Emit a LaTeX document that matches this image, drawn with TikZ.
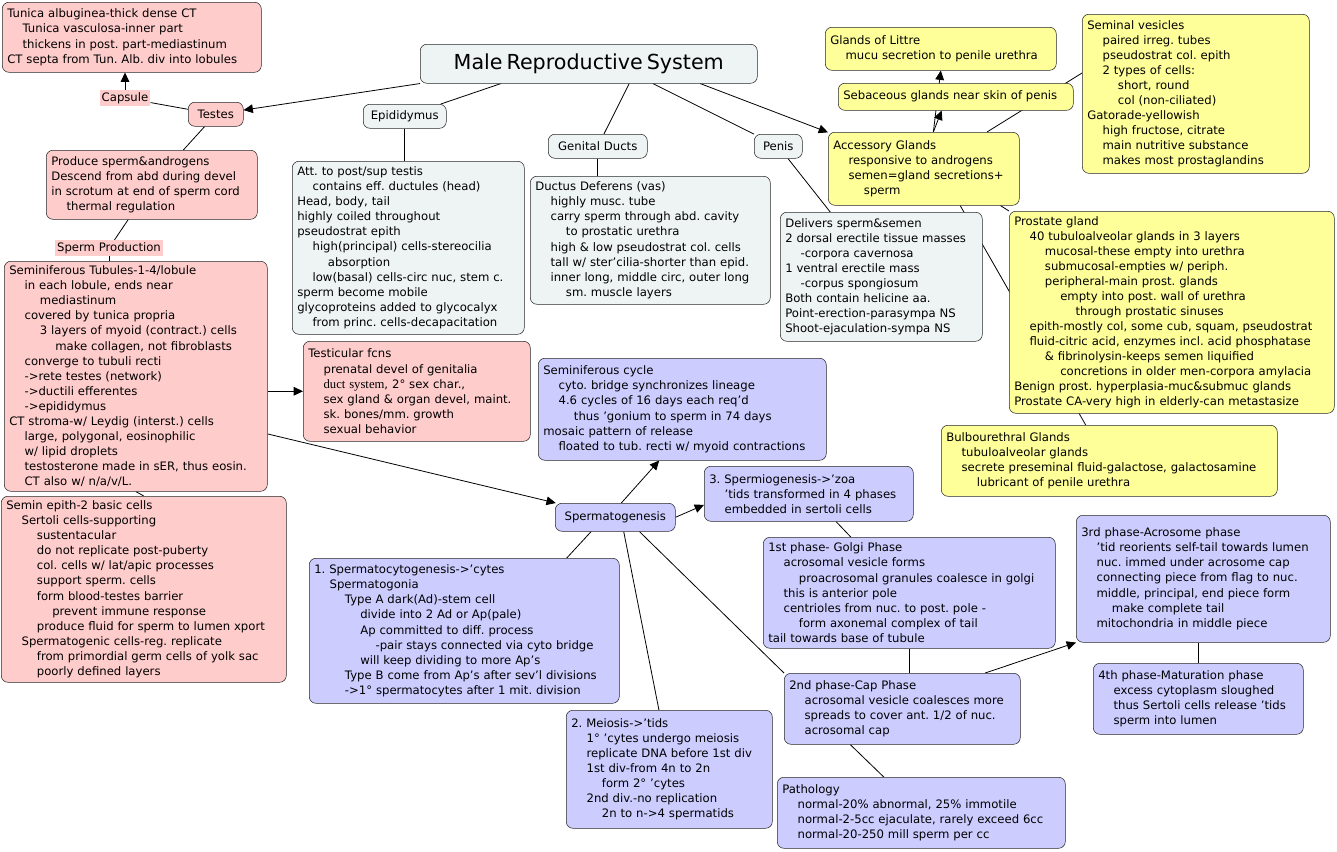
\documentclass[tikz,border=0pt]{standalone}
\usepackage{fontspec}
\setmainfont{DejaVu Sans}
\newfontfamily\serifx{Liberation Serif}
\usetikzlibrary{arrows.meta,calc,backgrounds}
\definecolor{pk}{RGB}{255,204,204}
\definecolor{bg}{RGB}{238,243,244}
\definecolor{yl}{RGB}{255,255,153}
\definecolor{lv}{RGB}{204,204,255}
\definecolor{bd}{RGB}{40,40,40}
\newcommand\ii{\hspace*{11.5pt}}
\newcommand\bx[7]{\node[box,fill=#2,text width={(#5-#3-10)*0.75pt},minimum height={(#6-#4)*0.75pt}] (#1) at (#3,#4) {#7};}
\newcommand\lb[7]{\node[box,fill=#2,align=center,text width={(#5-#3-10)*0.75pt},minimum height={(#6-#4)*0.75pt}] (#1) at (#3,#4) {#7};}
\newcommand\pt[3]{($(#1.#2 west)!#3!(#1.#2 east)$)}
\begin{document}
\frenchspacing
\begin{tikzpicture}[x=0.75pt,y=-0.75pt,
  font=\fontsize{8.75}{11.3}\selectfont\frenchspacing,
  box/.style={draw=bd,rounded corners=5pt,anchor=north west,align=left,inner xsep=3.75pt,inner ysep=2pt},
  tag/.style={fill=pk,inner sep=1.5pt},
  arr/.style={-{Triangle[length=7pt,width=6.5pt]}},
  con/.style={draw=black,line width=0.6pt}]
\useasboundingbox (0,0) rectangle (1337,851);
\lb{title}{bg}{420}{44}{757}{83}{\fontsize{15.5}{18}\selectfont Male Reproductive System}
\bx{tun}{pk}{2}{2}{261}{72}{Tunica albuginea-thick dense CT\\\ii Tunica vasculosa-inner part\\\ii thickens in post. part-mediastinum\\CT septa from Tun. Alb. div into lobules}
\node[tag] (cap) at (125,98) {Capsule};
\lb{testes}{pk}{188}{102}{243}{126}{Testes}
\bx{prod}{pk}{46}{150}{257}{219}{Produce sperm\&androgens\\Descend from abd during devel\\in scrotum at end of sperm cord\\\ii thermal regulation}
\node[tag] (sp) at (109,248) {Sperm Production};
\bx{semtub}{pk}{4}{261}{267}{491}{Seminiferous Tubules-1-4/lobule\\\ii in each lobule, ends near\\\ii\ii mediastinum\\\ii covered by tunica propria\\\ii\ii 3 layers of myoid (contract.) cells\\\ii\ii\ii make collagen, not fibroblasts\\\ii converge to tubuli recti\\\ii ->rete testes (network)\\\ii ->ductili efferentes\\\ii ->epididymus\\CT stroma-w/ Leydig (interst.) cells\\\ii large, polygonal, eosinophilic\\\ii w/ lipid droplets\\\ii testosterone made in sER, thus eosin.\\\ii CT also w/ n/a/v/L.}
\bx{semepi}{pk}{1}{496}{286}{682}{Semin epith-2 basic cells\\\ii Sertoli cells-supporting\\\ii\ii sustentacular\\\ii\ii do not replicate post-puberty\\\ii\ii col. cells w/ lat/apic processes\\\ii\ii support sperm. cells\\\ii\ii form blood-testes barrier\\\ii\ii\ii prevent immune response\\\ii\ii produce fluid for sperm to lumen xport\\\ii Spermatogenic cells-reg. replicate\\\ii\ii from primordial germ cells of yolk sac\\\ii\ii poorly defined layers}
\bx{testic}{pk}{303}{341}{530}{441}{Testicular fcns\\\ii prenatal devel of genitalia\\\ii {\serifx\fontsize{9.5}{11}\selectfont duct system}, 2° sex char.,\\\ii sex gland \& organ devel, maint.\\\ii sk. bones/mm. growth\\\ii sexual behavior}
\lb{epil}{bg}{363}{104}{446}{128}{Epididymus}
\bx{epid}{bg}{292}{161}{524}{334}{Att. to post/sup testis\\\ii contains eff. ductules (head)\\Head, body, tail\\highly coiled throughout\\pseudostrat epith\\\ii high(principal) cells-stereocilia\\\ii\ii absorption\\\ii low(basal) cells-circ nuc, stem c.\\sperm become mobile\\glycoproteins added to glycocalyx\\\ii from princ. cells-decapacitation}
\lb{gen}{bg}{548}{134}{647}{158}{Genital Ducts}
\bx{duct}{bg}{530}{176}{770}{304}{Ductus Deferens (vas)\\\ii highly musc. tube\\\ii carry sperm through abd. cavity\\\ii\ii to prostatic urethra\\\ii high \& low pseudostrat col. cells\\\ii tall w/ ster'cilia-shorter than epid.\\\ii inner long, middle circ, outer long\\\ii\ii sm. muscle layers}
\lb{pen}{bg}{754}{134}{802}{158}{Penis}
\bx{pend}{bg}{780}{212}{982}{341}{Delivers sperm\&semen\\2 dorsal erectile tissue masses\\\ii -corpora cavernosa\\1 ventral erectile mass\\\ii -corpus spongiosum\\Both contain helicine aa.\\Point-erection-parasympa NS\\Shoot-ejaculation-sympa NS}
\bx{lit}{yl}{825}{27}{1056}{70}{Glands of Littre\\\ii mucu secretion to penile urethra}
\bx{seb}{yl}{838}{83}{1073}{110}{Sebaceous glands near skin of penis}
\bx{semv}{yl}{1082}{14}{1309}{173}{Seminal vesicles\\\ii paired irreg. tubes\\\ii pseudostrat col. epith\\\ii 2 types of cells:\\\ii\ii short, round\\\ii\ii col (non-ciliated)\\Gatorade-yellowish\\\ii high fructose, citrate\\\ii main nutritive substance\\\ii makes most prostaglandins}
\bx{acc}{yl}{828}{132}{1019}{205}{Accessory Glands\\\ii responsive to androgens\\\ii semen=gland secretions+\\\ii\ii sperm}
\bx{pros}{yl}{1009}{211}{1334}{413}{Prostate gland\\\ii 40 tubuloalveolar glands in 3 layers\\\ii\ii mucosal-these empty into urethra\\\ii\ii submucosal-empties w/ periph.\\\ii\ii peripheral-main prost. glands\\\ii\ii\ii empty into post. wall of urethra\\\ii\ii\ii\ii through prostatic sinuses\\\ii epith-mostly col, some cub, squam, pseudostrat\\\ii fluid-citric acid, enzymes incl. acid phosphatase\\\ii\ii \& fibrinolysin-keeps semen liquified\\\ii\ii\ii concretions in older men-corpora amylacia\\Benign prost. hyperplasia-muc\&submuc glands\\Prostate CA-very high in elderly-can metastasize}
\bx{bulb}{yl}{941}{425}{1277}{496}{Bulbourethral Glands\\\ii tubuloalveolar glands\\\ii secrete preseminal fluid-galactose, galactosamine\\\ii\ii lubricant of penile urethra}
\bx{cyc}{lv}{538}{358}{826}{460}{Seminiferous cycle\\\ii cyto. bridge synchronizes lineage\\\ii 4.6 cycles of 16 days each req'd\\\ii\ii thus 'gonium to sperm in 74 days\\mosaic pattern of release\\\ii floated to tub. recti w/ myoid contractions}
\lb{sgen}{lv}{555}{503}{675}{531}{Spermatogenesis}
\bx{spio}{lv}{704}{466}{913}{521}{3. Spermiogenesis->'zoa\\\ii 'tids transformed in 4 phases\\\ii embedded in sertoli cells}
\bx{cyto}{lv}{309}{558}{619}{703}{1. Spermatocytogenesis->'cytes\\\ii Spermatogonia\\\ii\ii Type A dark(Ad)-stem cell\\\ii\ii\ii divide into 2 Ad or Ap(pale)\\\ii\ii\ii Ap committed to diff. process\\\ii\ii\ii\ii -pair stays connected via cyto bridge\\\ii\ii\ii will keep dividing to more Ap's\\\ii\ii Type B come from Ap's after sev'l divisions\\\ii\ii ->1° spermatocytes after 1 mit. division}
\bx{meio}{lv}{566}{710}{772}{828}{2. Meiosis->'tids\\\ii 1° 'cytes undergo meiosis\\\ii replicate DNA before 1st div\\\ii 1st div-from 4n to 2n\\\ii\ii form 2° 'cytes\\\ii 2nd div.-no replication\\\ii\ii 2n to n->4 spermatids}
\bx{ph1}{lv}{763}{537}{1055}{648}{1st phase- Golgi Phase\\\ii acrosomal vesicle forms\\\ii\ii proacrosomal granules coalesce in golgi\\\ii this is anterior pole\\\ii centrioles from nuc. to post. pole -\\\ii\ii form axonemal complex of tail\\tail towards base of tubule}
\bx{ph2}{lv}{784}{673}{1020}{744}{2nd phase-Cap Phase\\\ii acrosomal vesicle coalesces more\\\ii spreads to cover ant. 1/2 of nuc.\\\ii acrosomal cap}
\bx{path}{lv}{777}{777}{1065}{848}{Pathology\\\ii normal-20\% abnormal, 25\% immotile\\\ii normal-2-5cc ejaculate, rarely exceed 6cc\\\ii normal-20-250 mill sperm per cc}
\bx{ph3}{lv}{1076}{515}{1330}{642}{3rd phase-Acrosome phase\\\ii 'tid reorients self-tail towards lumen\\\ii nuc. immed under acrosome cap\\\ii connecting piece from flag to nuc.\\\ii middle, principal, end piece form\\\ii\ii make complete tail\\\ii mitochondria in middle piece}
\bx{ph4}{lv}{1093}{663}{1303}{734}{4th phase-Maturation phase\\\ii excess cytoplasm sloughed\\\ii thus Sertoli cells release 'tids\\\ii sperm into lumen}
\begin{pgfonlayer}{background}
\draw[con,arr] (title.south west) -- (testes);
\draw[con] \pt{title}{south}{0.24} -- (epil);
\draw[con] \pt{title}{south}{0.62} -- (gen);
\draw[con] \pt{title}{south}{0.69} -- (pen);
\draw[con,arr] \pt{title}{south}{0.83} -- (acc);
\draw[con] (testes) -- (cap);
\draw[con,arr] (cap) -- (cap |- tun.south);
\draw[con] (testes) -- (prod);
\draw[con] (prod) -- (sp);
\draw[con] (sp) -- (sp |- semtub.north);
\draw[con,arr] (testic.west -| semtub.east) -- (testic.west);
\draw[con,arr] ($(semtub.north east)!0.75!(semtub.south east)$) -- (sgen);
\draw[con] (semtub.south) -- (semepi.north);
\draw[con] (epil) -- (epil |- epid.north);
\draw[con] (gen) -- (gen |- duct.north);
\draw[con] (pen) -- (pend);
\draw[con,arr] \pt{acc}{north}{0.55} -- \pt{seb}{south}{0.44};
\draw[con,arr] \pt{acc}{north}{0.55} -- \pt{lit}{south}{0.5};
\draw[con] \pt{acc}{north}{0.83} -- ($(semv.north west)!0.37!(semv.south west)$);
\draw[con] \pt{acc}{south}{0.9} -- (pros.north west);
\draw[con] \pt{acc}{south}{0.69} -- \pt{bulb}{north}{0.43};
\draw[con,arr] \pt{sgen}{north}{0.55} -- \pt{cyc}{south}{0.42};
\draw[con,arr] (sgen.east) -- ($(spio.north west)!0.7!(spio.south west)$);
\draw[con] \pt{sgen}{south}{0.3} -- \pt{cyto}{north}{0.83};
\draw[con] \pt{sgen}{south}{0.57} -- \pt{meio}{north}{0.45};
\draw[con] \pt{sgen}{south}{0.7} -- (ph2.north west);
\draw[con] \pt{spio}{south}{0.63} -- \pt{ph1}{north}{0.3};
\draw[con] (ph2.north -| ph1.south) -- (ph1.south);
\draw[con,arr] \pt{ph2}{north}{0.85} -- (ph3.south west);
\draw[con] (ph4.north) -- (ph4.north |- ph3.south);
\draw[con] \pt{ph2}{south}{0.28} -- \pt{path}{north}{0.37};
\end{pgfonlayer}
\end{tikzpicture}
\end{document}
